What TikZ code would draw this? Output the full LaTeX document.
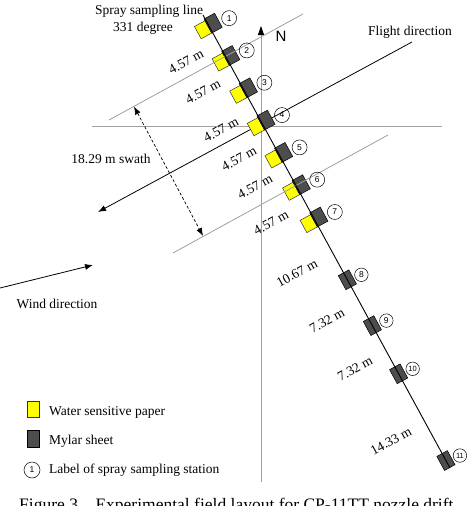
\documentclass[tikz,border=0pt]{standalone}
\usepackage{fontspec}
\setmainfont{Liberation Serif}
\newfontfamily\sansf{Liberation Sans}
\usetikzlibrary{arrows.meta,calc}
\definecolor{gline}{HTML}{A0A0A0}
\definecolor{mylarc}{HTML}{4D4D4D}
\definecolor{wspc}{HTML}{FFFF00}
\begin{document}
\begin{tikzpicture}[x=1pt,y=-1pt,
  txt/.style={font=\fontsize{13.5}{15}\selectfont, inner sep=0pt},
  distlab/.style={txt, rotate=28.6},
  mylarbox/.style={draw=black, line width=0.5pt, fill=mylarc, minimum width=12pt, minimum height=16pt, inner sep=0pt, rotate=28.6},
  wspbox/.style={draw=black!80, line width=0.5pt, fill=wspc, minimum width=12pt, minimum height=14pt, inner sep=0pt, rotate=28.6},
  lab/.style={circle, draw=black, line width=0.5pt, minimum size=15pt, inner sep=0pt, font=\sansf\fontsize{8.5}{8.5}\selectfont},
  labs/.style={lab, minimum size=13.5pt},
  gl/.style={draw=gline, line width=0.8pt},
  arr/.style={-{Latex[length=8pt,width=6pt]}, line width=0.8pt}
]
\useasboundingbox (0,0) rectangle (474,506);
\clip (0,0) rectangle (474,506);
\fill[white] (0,0) rectangle (474,506);

% reference axes
\coordinate (hl) at (92,126);
\coordinate (hr) at (442,126);
\coordinate (Nbot) at (261,482);
\coordinate (Ntop) at (261,26);
\draw[gl] (hl) -- (hr);
\draw[gl, -{Triangle[length=9pt,width=6pt,color=black,fill=black]}] (Nbot) -- (Ntop);

% flight direction
\coordinate (f1) at (412,42);
\coordinate (f2) at (98,212);
\draw[arr] (f1) -- (f2);

% sampling line
\coordinate (A) at (203,15);
\coordinate (B) at (450,468);

\foreach \i/\t in {1/12,2/48.8,3/85.6,4/122.4,5/159.2,6/196,7/232.8} {
  \coordinate (p\i) at ($(A)!\t pt!(B)$);
  \node[wspbox] (y\i) at ($(p\i)+(-5.67,4.23)$) {};
  \node[mylarbox] (m\i) at ($(p\i)+(4.39,-2.39)$) {};
}
\foreach \i/\t in {8/301.6,9/353.8,10/408.7,11/507.5} {
  \coordinate (p\i) at ($(A)!\t pt!(B)$);
  \node[mylarbox] (m\i) at (p\i) {};
}

% swath boundaries
\coordinate (u1) at (109,120);
\coordinate (u2) at (303,14);
\coordinate (l1) at (173,253);
\coordinate (l2) at (388,135);
\draw[gl] (u1) -- (u2);
\draw[gl] (l1) -- (l2);

\draw[line width=0.9pt] (A) -- (B);

% station labels
\foreach \i in {1,...,7} {
  \node[lab] (c\i) at ($(m\i)+(16,-5)$) {\i};
}
\foreach \i in {8,9} {
  \node[labs] (c\i) at ($(m\i)+(14,-5)$) {\i};
}
\foreach \i in {10,11} {
  \node[labs, font=\sansf\fontsize{7.5}{7.5}\selectfont] (c\i) at ($(m\i)+(14,-5)$) {\i};
}

% swath arrow
\coordinate (s1) at (134,106.5);
\coordinate (s2) at (203,236);
\draw[densely dashed, line width=0.7pt, {Latex[length=8pt,width=6pt]}-{Latex[length=8pt,width=6pt]}] (s1) -- (s2);

% wind arrow
\coordinate (w1) at (-2,288.5);
\coordinate (w2) at (93,265);
\draw[arr] (w1) -- (w2);

% texts
\node[txt] (ssl) at (149,11) {Spray sampling line};
\node[txt] (deg) at (143,28) {331 degree};
\node[font=\sansf\fontsize{15}{15}\selectfont, inner sep=0pt] (N) at (281,36) {N};
\node[txt] (fd) at (410,32) {Flight direction};
\node[txt] (sw) at (111,159) {18.29 m swath};
\node[txt] (wd) at (57,304) {Wind direction};

\node[distlab] (d1) at (186,62) {4.57 m};
\node[distlab] (d2) at (203,92) {4.57 m};
\node[distlab] (d3) at (221,130) {4.57 m};
\node[distlab] (d4) at (239,159) {4.57 m};
\node[distlab] (d5) at (255,187) {4.57 m};
\node[distlab] (d6) at (271,223) {4.57 m};
\node[distlab] (d7) at (297,273) {10.67 m};
\node[distlab] (d8) at (327,321) {7.32 m};
\node[distlab] (d9) at (355,369) {7.32 m};
\node[distlab] (d10) at (391,441) {14.33 m};

% legend
\node[draw=black!80, line width=0.5pt, fill=wspc, minimum width=12pt, minimum height=16pt, inner sep=0pt] (ly) at (33,409) {};
\node[draw=black, line width=0.5pt, fill=mylarc, minimum width=12pt, minimum height=17pt, inner sep=0pt] (lm) at (33,438.5) {};
\node[lab, minimum size=16pt, font=\sansf\fontsize{8.5}{8.5}\selectfont] (lc) at (32,470) {1};
\node[txt, anchor=west] (tly) at (49,412) {Water sensitive paper};
\node[txt, anchor=west] (tlm) at (49,441) {Mylar sheet};
\node[txt, anchor=west] (tlc) at (49,470) {Label of spray sampling station};

% caption (cut at the lower edge)
\node[font=\fontsize{17.5}{19}\selectfont, inner sep=0pt, anchor=base west] (cap) at (19,510.5) {Figure 3\quad Experimental field layout for CP-11TT nozzle drift};
\end{tikzpicture}
\end{document}
